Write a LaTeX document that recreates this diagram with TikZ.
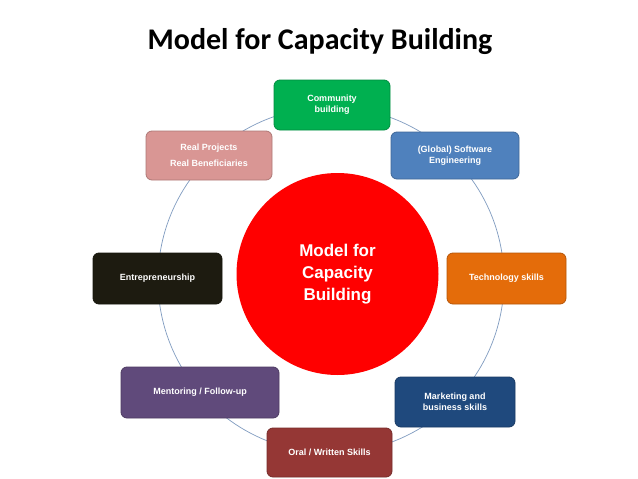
\documentclass[tikz,border=0pt]{standalone}
\usepackage{fontspec}
\setmainfont{Liberation Sans}
\newfontfamily\titlefont{Carlito}
\definecolor{cgreen}{HTML}{00B050}
\definecolor{cblue}{HTML}{4F81BD}
\definecolor{corange}{HTML}{E46C0A}
\definecolor{cnavy}{HTML}{1F497D}
\definecolor{cbrown}{HTML}{953735}
\definecolor{cpurple}{HTML}{604A7B}
\definecolor{cblack}{HTML}{1D1B10}
\definecolor{cpink}{HTML}{D99694}
\definecolor{cring}{HTML}{7F9BC0}
\begin{document}
\begin{tikzpicture}[x=1pt,y=-1pt,
  box/.style={rounded corners=6pt,draw=#1!80!black,line width=0.8pt,fill=#1,text=white,font=\bfseries\fontsize{9}{11}\selectfont,align=center,inner sep=0pt}]
\useasboundingbox (0,0) rectangle (638,479);
\fill[white] (0,0) rectangle (638,479);
\node[font=\titlefont\bfseries\fontsize{30}{34}\selectfont] (title) at (320,42) {Model for Capacity Building};
\draw[cring,line width=0.7pt] (331,280) circle[radius=173];
\node[circle,fill=red,minimum size=202pt,inner sep=0pt,text=white,align=center,font=\bfseries\fontsize{17}{22}\selectfont] (c) at (337.5,274) {Model for\\Capacity\\Building};
\newcommand{\bx}[6]{\node[box=#5,minimum width={#3-#1},minimum height={#4-#2}] (#6) at ({(#1+#3)/2},{(#2+#4)/2})}
\bx{274}{80}{390}{130}{cgreen}{n1} {Community\\building};
\bx{391}{132}{519}{179}{cblue}{n2} {(Global) Software\\Engineering};
\bx{447}{253}{566}{304}{corange}{n3} {Technology skills};
\bx{395}{377}{515}{427}{cnavy}{n4} {Marketing and\\business skills};
\bx{267}{428}{392}{477}{cbrown}{n5} {Oral / Written Skills};
\bx{121}{367}{279}{418}{cpurple}{n6} {Mentoring / Follow-up};
\bx{93}{253}{222}{304}{cblack}{n7} {Entrepreneurship};
\node[box=cpink,minimum width=126,minimum height=49,font=\bfseries\fontsize{9}{16}\selectfont] (n8) at (209,155.5) {Real Projects\\Real Beneficiaries};
\end{tikzpicture}
\end{document}
